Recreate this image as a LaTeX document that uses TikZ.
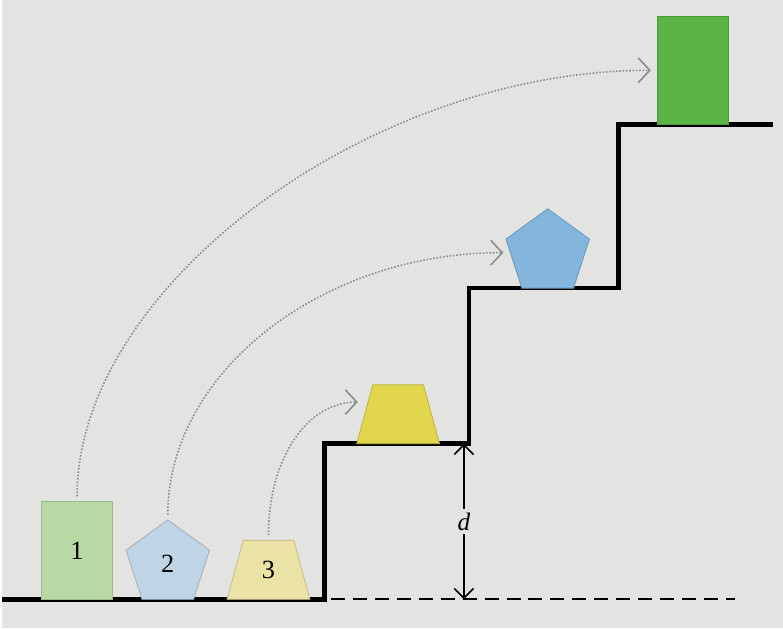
\documentclass[tikz,border=0pt]{standalone}
\usepackage{fontspec}
\setmainfont{Liberation Serif}
\usepackage{tikz}
\usetikzlibrary{shapes.geometric, arrows.meta}
\definecolor{paper}{HTML}{E3E3E1}
\definecolor{lgreen}{HTML}{B8D9A3}
\definecolor{lblue}{HTML}{BFD4E4}
\definecolor{lyellow}{HTML}{EBE2A6}
\definecolor{dgreen}{HTML}{5CB444}
\definecolor{dblue}{HTML}{84B5DD}
\definecolor{dyellow}{HTML}{E2D64E}
\tikzstyle{block}  = [rectangle, minimum width=1.42cm, minimum height=1.96cm, inner sep=0pt, outer sep=0pt, line width=0.5pt]
\tikzstyle{penta}  = [regular polygon, regular polygon sides=5, minimum size=1.76cm, inner sep=0pt, outer sep=0pt, line width=0.5pt]
\tikzstyle{trap}   = [trapezium, trapezium left angle=76, trapezium right angle=76, trapezium stretches=true, minimum width=1.66cm, minimum height=1.18cm, inner sep=1pt, outer sep=0pt, line width=0.5pt]
\tikzstyle{move}   = [densely dotted, gray!90, line width=0.9pt, -{Straight Barb[length=6.5pt,width=14pt]}, shorten <=3pt, shorten >=4pt]
\tikzstyle{stairs} = [line width=2.6pt, line join=miter]
\tikzstyle{level}  = [line width=1.3pt, dash pattern=on 8pt off 4.5pt]
\tikzstyle{dimen}  = [line width=0.9pt, {Straight Barb[length=5.5pt,width=11pt]}-{Straight Barb[length=5.5pt,width=11pt]}]
\tikzstyle{num}    = [font=\fontsize{15}{18}\selectfont]

\begin{document}
\begin{tikzpicture}
    \fill [paper] (0,0) rectangle (15.66,12.6);

    % stairs
    \draw [stairs] (0,0.58) -- (6.46,0.58) -- (6.46,3.70) -- (9.36,3.70)
                   -- (9.36,6.82) -- (12.36,6.82) -- (12.36,10.10) -- (15.46,10.10);
    \draw [level] (6.60,0.58) -- (14.70,0.58);

    % shapes at the bottom
    \node (box1)  [block, num, fill=lgreen, draw=lgreen!85!black, anchor=south] at (1.50,0.58) {1};
    \node (pent2) [penta, num, fill=lblue, draw=lblue!85!black, anchor=side 3] at (3.32,0.58) {2};
    \node (trap3) [trap, num, fill=lyellow, draw=lyellow!85!black, anchor=south] at (5.34,0.58) {3};

    % shapes on the steps
    \node (trapB) [trap, num, fill=dyellow, draw=dyellow!85!black, anchor=south] at (7.94,3.70) {\phantom{3}};
    \node (pentB) [penta, fill=dblue, draw=dblue!85!black, anchor=side 3] at (10.94,6.82) {};
    \node (boxB)  [block, minimum height=2.18cm, fill=dgreen, draw=dgreen!85!black, anchor=south] at (13.86,10.10) {};

    \draw [move] (box1.north)  .. controls +(0,4.3)  and +(-5.8,0) .. (boxB.west);
    \draw [move] (pent2.corner 1) .. controls +(0,2.95) and +(-3.8,0) .. (pentB.west);
    \draw [move] (trap3.north) .. controls +(0,1.65)  and +(-1.15,0) .. ([yshift=7pt]trapB.west);

    % height of one step
    \coordinate (dbot) at (9.26,0.58);
    \coordinate (dtop) at (9.26,3.70);
    \draw [dimen] (dbot) -- node (dlabel) [fill=paper, inner sep=2pt, font=\Large\itshape] {d} (dtop);

\end{tikzpicture}
\end{document}
